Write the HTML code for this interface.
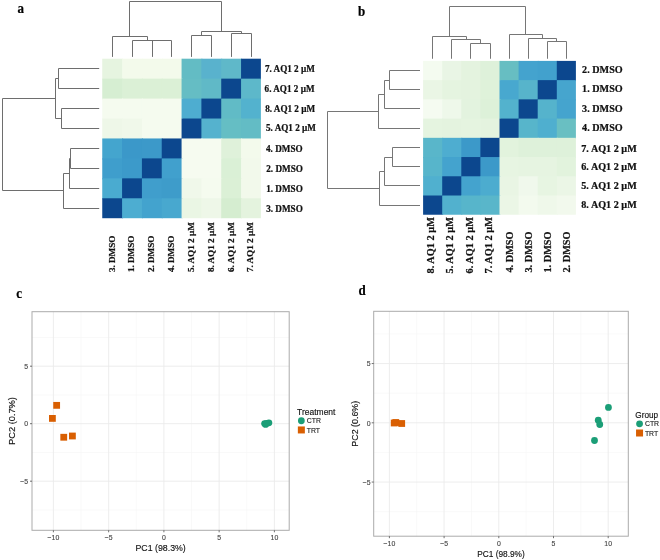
<!DOCTYPE html>
<html><head><meta charset="utf-8"><style>
html,body{margin:0;padding:0;background:#fff;width:660px;height:560px;overflow:hidden}
svg{display:block;will-change:transform}
.hl{font-family:"Liberation Serif",serif;font-weight:bold;fill:#111;stroke:#111;stroke-width:0.22px}
.pl{font-family:"Liberation Serif",serif;font-weight:bold;font-size:13px;fill:#000;stroke:#000;stroke-width:0.2px}
.tk{font-family:"Liberation Sans",sans-serif;font-size:6.9px;fill:#444;stroke:#444;stroke-width:0.12px}
.ax{font-family:"Liberation Sans",sans-serif;fill:#111;stroke:#111;stroke-width:0.14px}
.lt{font-family:"Liberation Sans",sans-serif;fill:#111;stroke:#111;stroke-width:0.14px}
.ll{font-family:"Liberation Sans",sans-serif;font-size:6.9px;fill:#222;stroke:#222;stroke-width:0.12px}
</style></head><body>
<svg width="660" height="560" viewBox="0 0 660 560">
<rect x="102.25" y="58.70" width="20.83" height="20.94" fill="#E6F4E0"/>
<rect x="122.08" y="58.70" width="20.83" height="20.94" fill="#F3FAEB"/>
<rect x="141.91" y="58.70" width="20.83" height="20.94" fill="#F3FAEB"/>
<rect x="161.74" y="58.70" width="20.83" height="20.94" fill="#F3FAEB"/>
<rect x="181.57" y="58.70" width="20.83" height="20.94" fill="#63BCC4"/>
<rect x="201.40" y="58.70" width="20.83" height="20.94" fill="#59B2CD"/>
<rect x="221.23" y="58.70" width="20.83" height="20.94" fill="#5FB8C9"/>
<rect x="241.06" y="58.70" width="19.83" height="20.94" fill="#0C478E"/>
<rect x="102.25" y="78.64" width="20.83" height="20.94" fill="#D6EED2"/>
<rect x="122.08" y="78.64" width="20.83" height="20.94" fill="#DBF0D6"/>
<rect x="141.91" y="78.64" width="20.83" height="20.94" fill="#DBF0D6"/>
<rect x="161.74" y="78.64" width="20.83" height="20.94" fill="#DBF0D6"/>
<rect x="181.57" y="78.64" width="20.83" height="20.94" fill="#65BDC4"/>
<rect x="201.40" y="78.64" width="20.83" height="20.94" fill="#60B9C7"/>
<rect x="221.23" y="78.64" width="20.83" height="20.94" fill="#0C478E"/>
<rect x="241.06" y="78.64" width="19.83" height="20.94" fill="#5DB8CA"/>
<rect x="102.25" y="98.58" width="20.83" height="20.94" fill="#F5FBEF"/>
<rect x="122.08" y="98.58" width="20.83" height="20.94" fill="#F5FBEF"/>
<rect x="141.91" y="98.58" width="20.83" height="20.94" fill="#F5FBEF"/>
<rect x="161.74" y="98.58" width="20.83" height="20.94" fill="#F5FBEF"/>
<rect x="181.57" y="98.58" width="20.83" height="20.94" fill="#4EADD0"/>
<rect x="201.40" y="98.58" width="20.83" height="20.94" fill="#0C478E"/>
<rect x="221.23" y="98.58" width="20.83" height="20.94" fill="#61BBC6"/>
<rect x="241.06" y="98.58" width="19.83" height="20.94" fill="#53B2CE"/>
<rect x="102.25" y="118.52" width="20.83" height="20.94" fill="#EEF7E8"/>
<rect x="122.08" y="118.52" width="20.83" height="20.94" fill="#F0F8EA"/>
<rect x="141.91" y="118.52" width="20.83" height="20.94" fill="#F5FBEF"/>
<rect x="161.74" y="118.52" width="20.83" height="20.94" fill="#F5FBEF"/>
<rect x="181.57" y="118.52" width="20.83" height="20.94" fill="#0C478E"/>
<rect x="201.40" y="118.52" width="20.83" height="20.94" fill="#55B2CE"/>
<rect x="221.23" y="118.52" width="20.83" height="20.94" fill="#65BEC4"/>
<rect x="241.06" y="118.52" width="19.83" height="20.94" fill="#63BCC5"/>
<rect x="102.25" y="138.46" width="20.83" height="20.94" fill="#44A5CE"/>
<rect x="122.08" y="138.46" width="20.83" height="20.94" fill="#3B98C9"/>
<rect x="141.91" y="138.46" width="20.83" height="20.94" fill="#3C99C9"/>
<rect x="161.74" y="138.46" width="20.83" height="20.94" fill="#0C478E"/>
<rect x="181.57" y="138.46" width="20.83" height="20.94" fill="#F6FBF0"/>
<rect x="201.40" y="138.46" width="20.83" height="20.94" fill="#F6FBF0"/>
<rect x="221.23" y="138.46" width="20.83" height="20.94" fill="#DFF1DA"/>
<rect x="241.06" y="138.46" width="19.83" height="20.94" fill="#F3FAEC"/>
<rect x="102.25" y="158.40" width="20.83" height="20.94" fill="#3F9ECC"/>
<rect x="122.08" y="158.40" width="20.83" height="20.94" fill="#3C9ACA"/>
<rect x="141.91" y="158.40" width="20.83" height="20.94" fill="#0C478E"/>
<rect x="161.74" y="158.40" width="20.83" height="20.94" fill="#41A0CD"/>
<rect x="181.57" y="158.40" width="20.83" height="20.94" fill="#F6FBF0"/>
<rect x="201.40" y="158.40" width="20.83" height="20.94" fill="#F6FBF0"/>
<rect x="221.23" y="158.40" width="20.83" height="20.94" fill="#DAF0D6"/>
<rect x="241.06" y="158.40" width="19.83" height="20.94" fill="#F2F9EB"/>
<rect x="102.25" y="178.34" width="20.83" height="20.94" fill="#4AABD0"/>
<rect x="122.08" y="178.34" width="20.83" height="20.94" fill="#0C478E"/>
<rect x="141.91" y="178.34" width="20.83" height="20.94" fill="#409ECC"/>
<rect x="161.74" y="178.34" width="20.83" height="20.94" fill="#3E9CCA"/>
<rect x="181.57" y="178.34" width="20.83" height="20.94" fill="#F0F8EA"/>
<rect x="201.40" y="178.34" width="20.83" height="20.94" fill="#F5FBEF"/>
<rect x="221.23" y="178.34" width="20.83" height="20.94" fill="#DBF0D6"/>
<rect x="241.06" y="178.34" width="19.83" height="20.94" fill="#F2F9EB"/>
<rect x="102.25" y="198.28" width="20.83" height="19.94" fill="#0C478E"/>
<rect x="122.08" y="198.28" width="20.83" height="19.94" fill="#4DADD1"/>
<rect x="141.91" y="198.28" width="20.83" height="19.94" fill="#43A3CE"/>
<rect x="161.74" y="198.28" width="20.83" height="19.94" fill="#48A8CF"/>
<rect x="181.57" y="198.28" width="20.83" height="19.94" fill="#EAF6E4"/>
<rect x="201.40" y="198.28" width="20.83" height="19.94" fill="#EEF7E8"/>
<rect x="221.23" y="198.28" width="20.83" height="19.94" fill="#D5EDD0"/>
<rect x="241.06" y="198.28" width="19.83" height="19.94" fill="#E4F3DE"/>
<path d="M152.50,56.90V40.50H171.50V56.90" fill="none" stroke="#6E6E6E" stroke-width="1.0"/>
<path d="M132.50,56.90V40.50H162.50V40.60" fill="none" stroke="#6E6E6E" stroke-width="1.0"/>
<path d="M112.50,56.90V36.50H147.50V40.00" fill="none" stroke="#6E6E6E" stroke-width="1.0"/>
<path d="M191.50,56.90V35.50H211.50V56.90" fill="none" stroke="#6E6E6E" stroke-width="1.0"/>
<path d="M231.50,56.90V33.50H251.50V56.90" fill="none" stroke="#6E6E6E" stroke-width="1.0"/>
<path d="M201.50,35.25V31.50H241.50V33.40" fill="none" stroke="#6E6E6E" stroke-width="1.0"/>
<path d="M129.50,36.50V1.50H221.50V31.50" fill="none" stroke="#6E6E6E" stroke-width="1.0"/>
<path d="M99.20,68.50H58.50V88.50H99.20" fill="none" stroke="#6E6E6E" stroke-width="1.0"/>
<path d="M99.20,108.50H61.50V128.50H99.20" fill="none" stroke="#6E6E6E" stroke-width="1.0"/>
<path d="M58.00,78.50H55.50V118.50H61.30" fill="none" stroke="#6E6E6E" stroke-width="1.0"/>
<path d="M99.20,148.50H70.50V168.50H99.20" fill="none" stroke="#6E6E6E" stroke-width="1.0"/>
<path d="M70.80,158.50H69.50V188.50H99.20" fill="none" stroke="#6E6E6E" stroke-width="1.0"/>
<path d="M69.70,173.50H63.50V208.50H99.20" fill="none" stroke="#6E6E6E" stroke-width="1.0"/>
<path d="M55.00,98.50H2.50V190.50H63.30" fill="none" stroke="#6E6E6E" stroke-width="1.0"/>
<text transform="translate(264.90,72.30) scale(1.0,1.07)" class="hl" font-size="9.15">7. AQ1 2 µM</text>
<text transform="translate(264.60,91.80) scale(1.0,1.07)" class="hl" font-size="9.15">6. AQ1 2 µM</text>
<text transform="translate(265.15,111.55) scale(1.0,1.07)" class="hl" font-size="9.15">8. AQ1 2 µM</text>
<text transform="translate(266.00,131.20) scale(1.0,1.07)" class="hl" font-size="9.15">5. AQ1 2 µM</text>
<text transform="translate(266.00,152.05) scale(1.0,1.07)" class="hl" font-size="9.15">4. DMSO</text>
<text transform="translate(266.30,172.30) scale(1.0,1.07)" class="hl" font-size="9.15">2. DMSO</text>
<text transform="translate(266.20,191.65) scale(1.0,1.07)" class="hl" font-size="9.15">1. DMSO</text>
<text transform="translate(266.20,211.90) scale(1.0,1.07)" class="hl" font-size="9.15">3. DMSO</text>
<text transform="translate(114.61,272.1) rotate(-90)" class="hl" font-size="9.15">3. DMSO</text>
<text transform="translate(134.45,272.1) rotate(-90)" class="hl" font-size="9.15">1. DMSO</text>
<text transform="translate(154.28,272.1) rotate(-90)" class="hl" font-size="9.15">2. DMSO</text>
<text transform="translate(174.11,272.1) rotate(-90)" class="hl" font-size="9.15">4. DMSO</text>
<text transform="translate(193.94,272.1) rotate(-90)" class="hl" font-size="9.15">5. AQ1 2 µM</text>
<text transform="translate(213.77,272.1) rotate(-90)" class="hl" font-size="9.15">8. AQ1 2 µM</text>
<text transform="translate(233.59,272.1) rotate(-90)" class="hl" font-size="9.15">6. AQ1 2 µM</text>
<text transform="translate(253.43,272.1) rotate(-90)" class="hl" font-size="9.15">7. AQ1 2 µM</text>
<text transform="translate(17.40,13.40) scale(1.0,1.12)" class="pl">a</text>
<rect x="423.10" y="60.90" width="20.10" height="20.23" fill="#F4FBF0"/>
<rect x="442.20" y="60.90" width="20.10" height="20.23" fill="#E9F5E5"/>
<rect x="461.30" y="60.90" width="20.10" height="20.23" fill="#E4F3DF"/>
<rect x="480.40" y="60.90" width="20.10" height="20.23" fill="#DEF1DA"/>
<rect x="499.50" y="60.90" width="20.10" height="20.23" fill="#67BEC2"/>
<rect x="518.60" y="60.90" width="20.10" height="20.23" fill="#44A3CE"/>
<rect x="537.70" y="60.90" width="20.10" height="20.23" fill="#42A1CD"/>
<rect x="556.80" y="60.90" width="19.10" height="20.23" fill="#0C478E"/>
<rect x="423.10" y="80.13" width="20.10" height="20.23" fill="#EAF6E5"/>
<rect x="442.20" y="80.13" width="20.10" height="20.23" fill="#E5F4E0"/>
<rect x="461.30" y="80.13" width="20.10" height="20.23" fill="#E4F3DF"/>
<rect x="480.40" y="80.13" width="20.10" height="20.23" fill="#DFF2DA"/>
<rect x="499.50" y="80.13" width="20.10" height="20.23" fill="#48A8CF"/>
<rect x="518.60" y="80.13" width="20.10" height="20.23" fill="#57B4CB"/>
<rect x="537.70" y="80.13" width="20.10" height="20.23" fill="#0C478E"/>
<rect x="556.80" y="80.13" width="19.10" height="20.23" fill="#46A5CE"/>
<rect x="423.10" y="99.36" width="20.10" height="20.23" fill="#F5FBF1"/>
<rect x="442.20" y="99.36" width="20.10" height="20.23" fill="#EEF8EA"/>
<rect x="461.30" y="99.36" width="20.10" height="20.23" fill="#E3F3DF"/>
<rect x="480.40" y="99.36" width="20.10" height="20.23" fill="#DDF1D9"/>
<rect x="499.50" y="99.36" width="20.10" height="20.23" fill="#53B2CD"/>
<rect x="518.60" y="99.36" width="20.10" height="20.23" fill="#0C478E"/>
<rect x="537.70" y="99.36" width="20.10" height="20.23" fill="#55B3CC"/>
<rect x="556.80" y="99.36" width="19.10" height="20.23" fill="#45A4CE"/>
<rect x="423.10" y="118.59" width="20.10" height="20.23" fill="#E5F4E0"/>
<rect x="442.20" y="118.59" width="20.10" height="20.23" fill="#E4F3DF"/>
<rect x="461.30" y="118.59" width="20.10" height="20.23" fill="#E5F4E0"/>
<rect x="480.40" y="118.59" width="20.10" height="20.23" fill="#E4F3DF"/>
<rect x="499.50" y="118.59" width="20.10" height="20.23" fill="#0C478E"/>
<rect x="518.60" y="118.59" width="20.10" height="20.23" fill="#57B5CB"/>
<rect x="537.70" y="118.59" width="20.10" height="20.23" fill="#4FAFCF"/>
<rect x="556.80" y="118.59" width="19.10" height="20.23" fill="#69BFC2"/>
<rect x="423.10" y="137.82" width="20.10" height="20.23" fill="#59B6CA"/>
<rect x="442.20" y="137.82" width="20.10" height="20.23" fill="#4EADD0"/>
<rect x="461.30" y="137.82" width="20.10" height="20.23" fill="#3C99C9"/>
<rect x="480.40" y="137.82" width="20.10" height="20.23" fill="#0C478E"/>
<rect x="499.50" y="137.82" width="20.10" height="20.23" fill="#E2F3DD"/>
<rect x="518.60" y="137.82" width="20.10" height="20.23" fill="#DEF1DA"/>
<rect x="537.70" y="137.82" width="20.10" height="20.23" fill="#DEF1DA"/>
<rect x="556.80" y="137.82" width="19.10" height="20.23" fill="#DEF1DA"/>
<rect x="423.10" y="157.05" width="20.10" height="20.23" fill="#57B5CB"/>
<rect x="442.20" y="157.05" width="20.10" height="20.23" fill="#44A3CE"/>
<rect x="461.30" y="157.05" width="20.10" height="20.23" fill="#0C478E"/>
<rect x="480.40" y="157.05" width="20.10" height="20.23" fill="#3C99C9"/>
<rect x="499.50" y="157.05" width="20.10" height="20.23" fill="#E7F5E2"/>
<rect x="518.60" y="157.05" width="20.10" height="20.23" fill="#E6F4E1"/>
<rect x="537.70" y="157.05" width="20.10" height="20.23" fill="#E6F4E1"/>
<rect x="556.80" y="157.05" width="19.10" height="20.23" fill="#E2F3DD"/>
<rect x="423.10" y="176.28" width="20.10" height="20.23" fill="#50B0CF"/>
<rect x="442.20" y="176.28" width="20.10" height="20.23" fill="#0C478E"/>
<rect x="461.30" y="176.28" width="20.10" height="20.23" fill="#44A3CE"/>
<rect x="480.40" y="176.28" width="20.10" height="20.23" fill="#4CACCF"/>
<rect x="499.50" y="176.28" width="20.10" height="20.23" fill="#E9F5E4"/>
<rect x="518.60" y="176.28" width="20.10" height="20.23" fill="#F0F8EC"/>
<rect x="537.70" y="176.28" width="20.10" height="20.23" fill="#E7F5E2"/>
<rect x="556.80" y="176.28" width="19.10" height="20.23" fill="#EBF6E6"/>
<rect x="423.10" y="195.51" width="20.10" height="19.23" fill="#0C478E"/>
<rect x="442.20" y="195.51" width="20.10" height="19.23" fill="#52B1CE"/>
<rect x="461.30" y="195.51" width="20.10" height="19.23" fill="#57B5CB"/>
<rect x="480.40" y="195.51" width="20.10" height="19.23" fill="#59B6CA"/>
<rect x="499.50" y="195.51" width="20.10" height="19.23" fill="#EBF6E6"/>
<rect x="518.60" y="195.51" width="20.10" height="19.23" fill="#F3FAEE"/>
<rect x="537.70" y="195.51" width="20.10" height="19.23" fill="#EFF8EA"/>
<rect x="556.80" y="195.51" width="19.10" height="19.23" fill="#F2F9ED"/>
<path d="M470.50,58.75V43.50H490.50V58.75" fill="none" stroke="#767676" stroke-width="1.0"/>
<path d="M451.50,58.75V39.50H480.50V43.50" fill="none" stroke="#767676" stroke-width="1.0"/>
<path d="M432.50,58.75V36.50H466.50V39.40" fill="none" stroke="#767676" stroke-width="1.0"/>
<path d="M547.50,58.75V41.50H566.50V58.75" fill="none" stroke="#767676" stroke-width="1.0"/>
<path d="M528.50,58.75V38.50H556.50V41.90" fill="none" stroke="#767676" stroke-width="1.0"/>
<path d="M509.50,58.75V34.50H542.50V38.75" fill="none" stroke="#767676" stroke-width="1.0"/>
<path d="M449.50,36.25V6.50H525.50V34.60" fill="none" stroke="#767676" stroke-width="1.0"/>
<path d="M420.00,70.50H389.50V89.50H420.00" fill="none" stroke="#767676" stroke-width="1.0"/>
<path d="M389.50,80.50H384.50V108.50H420.00" fill="none" stroke="#767676" stroke-width="1.0"/>
<path d="M384.50,94.50H378.50V128.50H420.00" fill="none" stroke="#767676" stroke-width="1.0"/>
<path d="M420.00,147.50H392.50V166.50H420.00" fill="none" stroke="#767676" stroke-width="1.0"/>
<path d="M392.80,157.50H384.50V185.50H420.00" fill="none" stroke="#767676" stroke-width="1.0"/>
<path d="M384.50,171.50H379.50V205.50H420.00" fill="none" stroke="#767676" stroke-width="1.0"/>
<path d="M378.30,111.50H327.50V188.50H379.50" fill="none" stroke="#767676" stroke-width="1.0"/>
<text transform="translate(582.10,72.90) scale(1.0,1.07)" class="hl" font-size="10.15">2. DMSO</text>
<text transform="translate(582.10,91.90) scale(1.0,1.07)" class="hl" font-size="10.15">1. DMSO</text>
<text transform="translate(582.10,111.80) scale(1.0,1.07)" class="hl" font-size="10.15">3. DMSO</text>
<text transform="translate(582.10,130.80) scale(1.0,1.07)" class="hl" font-size="10.15">4. DMSO</text>
<text transform="translate(581.30,151.70) scale(1.0,1.07)" class="hl" font-size="10.15">7. AQ1 2 µM</text>
<text transform="translate(581.30,169.90) scale(1.0,1.07)" class="hl" font-size="10.15">6. AQ1 2 µM</text>
<text transform="translate(581.30,189.00) scale(1.0,1.07)" class="hl" font-size="10.15">5. AQ1 2 µM</text>
<text transform="translate(581.30,208.30) scale(1.0,1.07)" class="hl" font-size="10.15">8. AQ1 2 µM</text>
<text transform="translate(434.35,273.4) rotate(-90) scale(1.015,1)" class="hl" font-size="10.15">8. AQ1 2 µM</text>
<text transform="translate(453.45,273.4) rotate(-90) scale(1.015,1)" class="hl" font-size="10.15">5. AQ1 2 µM</text>
<text transform="translate(472.55,273.4) rotate(-90) scale(1.015,1)" class="hl" font-size="10.15">6. AQ1 2 µM</text>
<text transform="translate(491.65,273.4) rotate(-90) scale(1.015,1)" class="hl" font-size="10.15">7. AQ1 2 µM</text>
<text transform="translate(513.15,272.6) rotate(-90) scale(1.015,1)" class="hl" font-size="10.15">4. DMSO</text>
<text transform="translate(532.25,272.6) rotate(-90) scale(1.015,1)" class="hl" font-size="10.15">3. DMSO</text>
<text transform="translate(551.35,272.6) rotate(-90) scale(1.015,1)" class="hl" font-size="10.15">1. DMSO</text>
<text transform="translate(570.45,272.6) rotate(-90) scale(1.015,1)" class="hl" font-size="10.15">2. DMSO</text>
<text transform="translate(358.00,16.00) scale(1.0,1.12)" class="pl">b</text>
<rect x="32.0" y="311.7" width="257.2" height="218.59999999999997" fill="#fff"/>
<line x1="81.03" y1="311.7" x2="81.03" y2="530.3" stroke="#F5F5F5" stroke-width="0.6"/>
<line x1="32.0" y1="509.95" x2="289.2" y2="509.95" stroke="#F5F5F5" stroke-width="0.6"/>
<line x1="136.28" y1="311.7" x2="136.28" y2="530.3" stroke="#F5F5F5" stroke-width="0.6"/>
<line x1="32.0" y1="452.45" x2="289.2" y2="452.45" stroke="#F5F5F5" stroke-width="0.6"/>
<line x1="191.53" y1="311.7" x2="191.53" y2="530.3" stroke="#F5F5F5" stroke-width="0.6"/>
<line x1="32.0" y1="394.95" x2="289.2" y2="394.95" stroke="#F5F5F5" stroke-width="0.6"/>
<line x1="246.78" y1="311.7" x2="246.78" y2="530.3" stroke="#F5F5F5" stroke-width="0.6"/>
<line x1="32.0" y1="337.45" x2="289.2" y2="337.45" stroke="#F5F5F5" stroke-width="0.6"/>
<line x1="53.40" y1="311.7" x2="53.40" y2="530.3" stroke="#EBEBEB" stroke-width="0.9"/>
<line x1="108.65" y1="311.7" x2="108.65" y2="530.3" stroke="#EBEBEB" stroke-width="0.9"/>
<line x1="163.90" y1="311.7" x2="163.90" y2="530.3" stroke="#EBEBEB" stroke-width="0.9"/>
<line x1="219.15" y1="311.7" x2="219.15" y2="530.3" stroke="#EBEBEB" stroke-width="0.9"/>
<line x1="274.40" y1="311.7" x2="274.40" y2="530.3" stroke="#EBEBEB" stroke-width="0.9"/>
<line x1="32.0" y1="481.20" x2="289.2" y2="481.20" stroke="#EBEBEB" stroke-width="0.9"/>
<line x1="32.0" y1="423.70" x2="289.2" y2="423.70" stroke="#EBEBEB" stroke-width="0.9"/>
<line x1="32.0" y1="366.20" x2="289.2" y2="366.20" stroke="#EBEBEB" stroke-width="0.9"/>
<rect x="53.25" y="401.95" width="6.8" height="6.8" fill="#D95F02"/>
<rect x="49.00" y="415.00" width="6.8" height="6.8" fill="#D95F02"/>
<rect x="60.35" y="433.85" width="6.8" height="6.8" fill="#D95F02"/>
<rect x="69.00" y="432.60" width="6.8" height="6.8" fill="#D95F02"/>
<circle cx="264.60" cy="423.60" r="3.4" fill="#1B9E77"/>
<circle cx="265.60" cy="424.40" r="3.4" fill="#1B9E77"/>
<circle cx="268.90" cy="422.80" r="3.4" fill="#1B9E77"/>
<circle cx="266.50" cy="423.30" r="3.4" fill="#1B9E77"/>
<rect x="32.0" y="311.7" width="257.2" height="218.59999999999997" fill="none" stroke="#ABABAB" stroke-width="1"/>
<line x1="53.40" y1="530.3" x2="53.40" y2="532.3" stroke="#4D4D4D" stroke-width="0.8"/>
<text transform="translate(53.40,539.90) scale(1.0,1.16)" class="tk" font-size="7.2" text-anchor="middle">−10</text>
<line x1="108.65" y1="530.3" x2="108.65" y2="532.3" stroke="#4D4D4D" stroke-width="0.8"/>
<text transform="translate(108.65,539.90) scale(1.0,1.16)" class="tk" font-size="7.2" text-anchor="middle">−5</text>
<line x1="163.90" y1="530.3" x2="163.90" y2="532.3" stroke="#4D4D4D" stroke-width="0.8"/>
<text transform="translate(163.90,539.90) scale(1.0,1.16)" class="tk" font-size="7.2" text-anchor="middle">0</text>
<line x1="219.15" y1="530.3" x2="219.15" y2="532.3" stroke="#4D4D4D" stroke-width="0.8"/>
<text transform="translate(219.15,539.90) scale(1.0,1.16)" class="tk" font-size="7.2" text-anchor="middle">5</text>
<line x1="274.40" y1="530.3" x2="274.40" y2="532.3" stroke="#4D4D4D" stroke-width="0.8"/>
<text transform="translate(274.40,539.90) scale(1.0,1.16)" class="tk" font-size="7.2" text-anchor="middle">10</text>
<line x1="30.0" y1="481.20" x2="32.0" y2="481.20" stroke="#4D4D4D" stroke-width="0.8"/>
<text transform="translate(28.20,483.95) scale(1.0,1.16)" class="tk" font-size="7.2" text-anchor="end">−5</text>
<line x1="30.0" y1="423.70" x2="32.0" y2="423.70" stroke="#4D4D4D" stroke-width="0.8"/>
<text transform="translate(28.20,426.45) scale(1.0,1.16)" class="tk" font-size="7.2" text-anchor="end">0</text>
<line x1="30.0" y1="366.20" x2="32.0" y2="366.20" stroke="#4D4D4D" stroke-width="0.8"/>
<text transform="translate(28.20,368.95) scale(1.0,1.16)" class="tk" font-size="7.2" text-anchor="end">5</text>
<text transform="translate(160.60,550.90) scale(1.0,1.08)" class="ax" font-size="8.8" text-anchor="middle">PC1 (98.3%)</text>
<text transform="translate(14.90,421.00) rotate(-90) scale(1.055,1.0)" class="ax" font-size="8.8" text-anchor="middle">PC2 (0.7%)</text>
<text transform="translate(297.10,414.65) scale(1.0,1.16)" class="lt" font-size="8.5">Treatment</text>
<circle cx="301.35" cy="420.75" r="3.4" fill="#1B9E77"/>
<text transform="translate(306.70,423.25) scale(1.0,1.16)" class="ll" font-size="7.2">CTR</text>
<rect x="297.85" y="426.45" width="7" height="7" fill="#D95F02"/>
<text transform="translate(306.70,432.65) scale(1.0,1.16)" class="ll" font-size="7.2">TRT</text>
<text transform="translate(16.20,298.30) scale(1.0,1.12)" class="pl">c</text>
<rect x="373.7" y="311.3" width="254.59999999999997" height="224.90000000000003" fill="#fff"/>
<line x1="416.75" y1="311.3" x2="416.75" y2="536.2" stroke="#F5F5F5" stroke-width="0.6"/>
<line x1="373.7" y1="511.68" x2="628.3" y2="511.68" stroke="#F5F5F5" stroke-width="0.6"/>
<line x1="471.45" y1="311.3" x2="471.45" y2="536.2" stroke="#F5F5F5" stroke-width="0.6"/>
<line x1="373.7" y1="452.43" x2="628.3" y2="452.43" stroke="#F5F5F5" stroke-width="0.6"/>
<line x1="526.15" y1="311.3" x2="526.15" y2="536.2" stroke="#F5F5F5" stroke-width="0.6"/>
<line x1="373.7" y1="393.18" x2="628.3" y2="393.18" stroke="#F5F5F5" stroke-width="0.6"/>
<line x1="580.85" y1="311.3" x2="580.85" y2="536.2" stroke="#F5F5F5" stroke-width="0.6"/>
<line x1="373.7" y1="333.93" x2="628.3" y2="333.93" stroke="#F5F5F5" stroke-width="0.6"/>
<line x1="389.40" y1="311.3" x2="389.40" y2="536.2" stroke="#EBEBEB" stroke-width="0.9"/>
<line x1="444.10" y1="311.3" x2="444.10" y2="536.2" stroke="#EBEBEB" stroke-width="0.9"/>
<line x1="498.80" y1="311.3" x2="498.80" y2="536.2" stroke="#EBEBEB" stroke-width="0.9"/>
<line x1="553.50" y1="311.3" x2="553.50" y2="536.2" stroke="#EBEBEB" stroke-width="0.9"/>
<line x1="608.20" y1="311.3" x2="608.20" y2="536.2" stroke="#EBEBEB" stroke-width="0.9"/>
<line x1="373.7" y1="482.05" x2="628.3" y2="482.05" stroke="#EBEBEB" stroke-width="0.9"/>
<line x1="373.7" y1="422.80" x2="628.3" y2="422.80" stroke="#EBEBEB" stroke-width="0.9"/>
<line x1="373.7" y1="363.55" x2="628.3" y2="363.55" stroke="#EBEBEB" stroke-width="0.9"/>
<rect x="392.40" y="419.10" width="6.8" height="6.8" fill="#D95F02"/>
<rect x="390.80" y="419.60" width="6.8" height="6.8" fill="#D95F02"/>
<rect x="398.30" y="420.10" width="6.8" height="6.8" fill="#D95F02"/>
<circle cx="608.45" cy="407.45" r="3.4" fill="#1B9E77"/>
<circle cx="598.25" cy="420.25" r="3.4" fill="#1B9E77"/>
<circle cx="599.75" cy="424.50" r="3.4" fill="#1B9E77"/>
<circle cx="594.50" cy="440.50" r="3.4" fill="#1B9E77"/>
<rect x="373.7" y="311.3" width="254.59999999999997" height="224.90000000000003" fill="none" stroke="#ABABAB" stroke-width="1"/>
<line x1="389.40" y1="536.2" x2="389.40" y2="538.2" stroke="#4D4D4D" stroke-width="0.8"/>
<text transform="translate(389.40,545.60) scale(1.0,1.16)" class="tk" font-size="7.2" text-anchor="middle">−10</text>
<line x1="444.10" y1="536.2" x2="444.10" y2="538.2" stroke="#4D4D4D" stroke-width="0.8"/>
<text transform="translate(444.10,545.60) scale(1.0,1.16)" class="tk" font-size="7.2" text-anchor="middle">−5</text>
<line x1="498.80" y1="536.2" x2="498.80" y2="538.2" stroke="#4D4D4D" stroke-width="0.8"/>
<text transform="translate(498.80,545.60) scale(1.0,1.16)" class="tk" font-size="7.2" text-anchor="middle">0</text>
<line x1="553.50" y1="536.2" x2="553.50" y2="538.2" stroke="#4D4D4D" stroke-width="0.8"/>
<text transform="translate(553.50,545.60) scale(1.0,1.16)" class="tk" font-size="7.2" text-anchor="middle">5</text>
<line x1="608.20" y1="536.2" x2="608.20" y2="538.2" stroke="#4D4D4D" stroke-width="0.8"/>
<text transform="translate(608.20,545.60) scale(1.0,1.16)" class="tk" font-size="7.2" text-anchor="middle">10</text>
<line x1="371.7" y1="482.05" x2="373.7" y2="482.05" stroke="#4D4D4D" stroke-width="0.8"/>
<text transform="translate(370.50,484.80) scale(1.0,1.16)" class="tk" font-size="7.2" text-anchor="end">−5</text>
<line x1="371.7" y1="422.80" x2="373.7" y2="422.80" stroke="#4D4D4D" stroke-width="0.8"/>
<text transform="translate(370.50,425.55) scale(1.0,1.16)" class="tk" font-size="7.2" text-anchor="end">0</text>
<line x1="371.7" y1="363.55" x2="373.7" y2="363.55" stroke="#4D4D4D" stroke-width="0.8"/>
<text transform="translate(370.50,366.30) scale(1.0,1.16)" class="tk" font-size="7.2" text-anchor="end">5</text>
<text transform="translate(501.00,557.30) scale(1.0,1.08)" class="ax" font-size="8.3" text-anchor="middle">PC1 (98.9%)</text>
<text transform="translate(357.80,423.75) rotate(-90)" class="ax" font-size="8.9" text-anchor="middle">PC2 (0.6%)</text>
<text transform="translate(635.30,417.70) scale(1.0,1.16)" class="lt" font-size="8.2">Group</text>
<circle cx="639.55" cy="423.80" r="3.4" fill="#1B9E77"/>
<text transform="translate(644.90,426.30) scale(1.0,1.16)" class="ll" font-size="7.2">CTR</text>
<rect x="636.05" y="429.50" width="7" height="7" fill="#D95F02"/>
<text transform="translate(644.90,435.70) scale(1.0,1.16)" class="ll" font-size="7.2">TRT</text>
<text transform="translate(358.40,294.60) scale(1.0,1.12)" class="pl">d</text>
</svg>
</body></html>
